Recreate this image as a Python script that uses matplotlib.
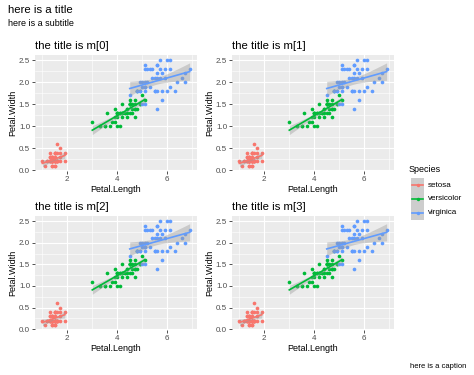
import matplotlib
matplotlib.use('Agg')
import matplotlib.pyplot as plt
import matplotlib.ticker as ticker
from matplotlib.patches import Rectangle
from matplotlib.lines import Line2D
import numpy as np

plt.rcParams.update({
  'font.family'      : ['Liberation Sans', 'DejaVu Sans'],
  'figure.facecolor' : 'w',
  'figure.dpi'       : 100,
})

# iris petal measurements
species = ['setosa', 'versicolor', 'virginica']
colors = ['#F8766D', '#00BA38', '#619CFF']

setosa_length = [1.4, 1.4, 1.3, 1.5, 1.4, 1.7, 1.4, 1.5, 1.4, 1.5, 1.5, 1.6, 1.4, 1.1, 1.2, 1.5, 1.3, 1.4, 1.7, 1.5,
                 1.7, 1.5, 1.0, 1.7, 1.9, 1.6, 1.6, 1.5, 1.4, 1.6, 1.6, 1.5, 1.5, 1.4, 1.5, 1.2, 1.3, 1.4, 1.3, 1.5,
                 1.3, 1.3, 1.3, 1.6, 1.9, 1.4, 1.6, 1.4, 1.5, 1.4]
setosa_width = [0.2, 0.2, 0.2, 0.2, 0.2, 0.4, 0.3, 0.2, 0.2, 0.1, 0.2, 0.2, 0.1, 0.1, 0.2, 0.4, 0.4, 0.3, 0.3, 0.3,
                0.2, 0.4, 0.2, 0.5, 0.2, 0.2, 0.4, 0.2, 0.2, 0.2, 0.2, 0.4, 0.1, 0.2, 0.2, 0.2, 0.2, 0.1, 0.2, 0.2,
                0.3, 0.3, 0.2, 0.6, 0.4, 0.3, 0.2, 0.2, 0.2, 0.2]
versicolor_length = [4.7, 4.5, 4.9, 4.0, 4.6, 4.5, 4.7, 3.3, 4.6, 3.9, 3.5, 4.2, 4.0, 4.7, 3.6, 4.4, 4.5, 4.1, 4.5, 3.9,
                     4.8, 4.0, 4.9, 4.7, 4.3, 4.4, 4.8, 5.0, 4.5, 3.5, 3.8, 3.7, 3.9, 5.1, 4.5, 4.5, 4.7, 4.4, 4.1, 4.0,
                     4.4, 4.6, 4.0, 3.3, 4.2, 4.2, 4.2, 4.3, 3.0, 4.1]
versicolor_width = [1.4, 1.5, 1.5, 1.3, 1.5, 1.3, 1.6, 1.0, 1.3, 1.4, 1.0, 1.5, 1.0, 1.4, 1.3, 1.4, 1.5, 1.0, 1.5, 1.1,
                    1.8, 1.3, 1.5, 1.2, 1.3, 1.4, 1.4, 1.7, 1.5, 1.0, 1.1, 1.0, 1.2, 1.6, 1.5, 1.6, 1.5, 1.3, 1.3, 1.3,
                    1.2, 1.4, 1.2, 1.0, 1.3, 1.2, 1.3, 1.3, 1.1, 1.3]
virginica_length = [6.0, 5.1, 5.9, 5.6, 5.8, 6.6, 4.5, 6.3, 5.8, 6.1, 5.1, 5.3, 5.5, 5.0, 5.1, 5.3, 5.5, 6.7, 6.9, 5.0,
                    5.7, 4.9, 6.7, 4.9, 5.7, 6.0, 4.8, 4.9, 5.6, 5.8, 6.1, 6.4, 5.6, 5.1, 5.6, 6.1, 5.6, 5.5, 4.8, 5.4,
                    5.6, 5.1, 5.1, 5.9, 5.7, 5.2, 5.0, 5.2, 5.4, 5.1]
virginica_width = [2.5, 1.9, 2.1, 1.8, 2.2, 2.1, 1.7, 1.8, 1.8, 2.5, 2.0, 1.9, 2.1, 2.0, 2.4, 2.3, 1.8, 2.2, 2.3, 1.5,
                   2.3, 2.0, 2.0, 1.8, 2.1, 1.8, 1.8, 1.8, 2.1, 1.6, 1.9, 2.0, 2.2, 1.5, 1.4, 2.3, 2.4, 1.8, 1.8, 2.1,
                   2.4, 2.3, 1.9, 2.3, 2.5, 2.3, 1.9, 2.0, 2.3, 1.8]

lengths = [setosa_length, versicolor_length, virginica_length]
widths = [setosa_width, versicolor_width, virginica_width]
panel_titles = ['the title is m[0]', 'the title is m[1]', 'the title is m[2]', 'the title is m[3]']

T975 = 2.0106  # t quantile, df = 48

W, H = 474, 375
fig = plt.figure(figsize=(W / 100, H / 100))

def px_axes(left, top, right, bottom):
    return fig.add_axes([left / W, 1 - bottom / H, (right - left) / W, (bottom - top) / H])

boxes = [(35, 55, 197, 171), (232, 55, 394, 171), (35, 216, 197, 330), (232, 216, 394, 330)]

for ax_idx, box in enumerate(boxes):
    ax = px_axes(*box)
    ax.set_facecolor('#EBEBEB')
    for s in ax.spines.values():
        s.set_visible(False)
    for sp_idx in range(3):
        x = np.array(lengths[sp_idx])
        y = np.array(widths[sp_idx])
        ax.scatter(x, y, s=7, color=colors[sp_idx], linewidths=0, zorder=3)
        # lm smooth with 95% ribbon
        n = len(x)
        b, a = np.polyfit(x, y, 1)
        resid = y - (a + b * x)
        sigma = np.sqrt(np.sum(resid ** 2) / (n - 2))
        sxx = np.sum((x - x.mean()) ** 2)
        xs = np.linspace(x.min(), x.max(), 80)
        ys = a + b * xs
        se = sigma * np.sqrt(1 / n + (xs - x.mean()) ** 2 / sxx)
        ax.fill_between(xs, ys - T975 * se, ys + T975 * se, color='#999999', alpha=0.4, linewidth=0, zorder=4)
        ax.plot(xs, ys, color=colors[sp_idx], linewidth=1.2, zorder=5)
    ax.set_xlim(0.705, 7.195)
    ax.set_ylim(-0.02, 2.62)
    ax.xaxis.set_major_locator(ticker.FixedLocator([2, 4, 6]))
    ax.xaxis.set_minor_locator(ticker.FixedLocator([1, 3, 5, 7]))
    ax.yaxis.set_major_locator(ticker.MultipleLocator(0.5))
    ax.yaxis.set_minor_locator(ticker.FixedLocator([0.25, 0.75, 1.25, 1.75, 2.25]))
    ax.yaxis.set_major_formatter(ticker.FormatStrFormatter('%.1f'))
    ax.grid(True, which='major', color='white', linewidth=0.8, zorder=0)
    ax.grid(True, which='minor', color='white', linewidth=0.4, zorder=0)
    ax.set_axisbelow(True)
    ax.tick_params(which='major', length=2, width=0.6, color='#333333', labelsize=5.8,
                   labelcolor='#4D4D4D', pad=1.5)
    ax.tick_params(which='minor', length=0)
    ax.set_xlabel('Petal.Length', fontsize=6.5, labelpad=1.5)
    ax.set_ylabel('Petal.Width', fontsize=6.5, labelpad=1.5)
    ax.set_title(panel_titles[ax_idx], fontsize=8.2, loc='left', pad=4)

# overall title, subtitle and caption
fig.text(8 / W, 1 - 10 / H, 'here is a title', fontsize=8.2, va='center', ha='left')
fig.text(8 / W, 1 - 24 / H, 'here is a subtitle', fontsize=6.5, va='center', ha='left')
fig.text(466 / W, 1 - 366 / H, 'here is a caption', fontsize=5.5, va='center', ha='right')

# legend, drawn as ggplot does: gray key boxes with line + point
fig.text(409 / W, 1 - 170 / H, 'Species', fontsize=6.5, va='center', ha='left')
key_left, key_right, key_top, key_h = 411, 424, 178, 14
for sp_idx, name in enumerate(species):
    top = key_top + sp_idx * key_h
    fig.patches.append(Rectangle((key_left / W, 1 - (top + key_h) / H), (key_right - key_left) / W, key_h / H,
                                 transform=fig.transFigure, facecolor='#CDCDCD', edgecolor='none'))
    yc = 1 - (top + key_h / 2) / H
    fig.lines.append(Line2D([(key_left + 1) / W, (key_right - 1) / W], [yc, yc], transform=fig.transFigure,
                            color=colors[sp_idx], linewidth=1.2))
    fig.lines.append(Line2D([(key_left + key_right) / 2 / W], [yc], transform=fig.transFigure,
                            color=colors[sp_idx], marker='o', markersize=2.5, markeredgewidth=0, linestyle='none'))
    fig.text(428 / W, yc, name, fontsize=5.8, va='center', ha='left')

plt.savefig('out.png')
